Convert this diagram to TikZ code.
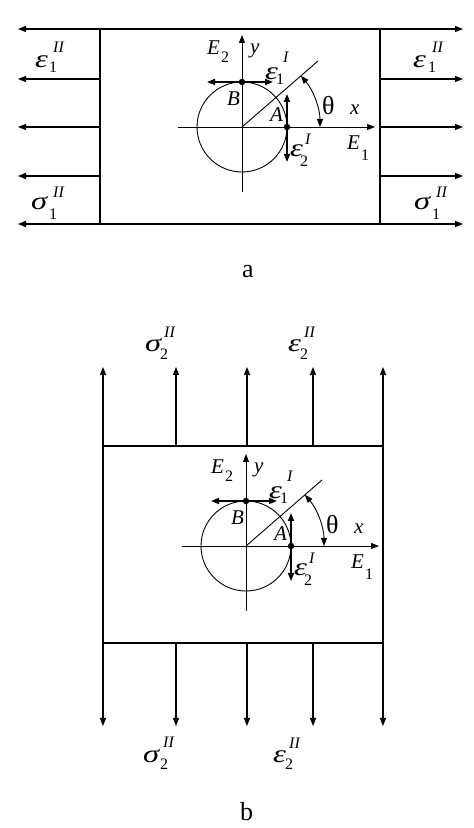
\documentclass[tikz,border=0pt]{standalone}
\usepackage{graphicx}
\usepackage{fontspec}
\setmainfont{Liberation Serif}
\usetikzlibrary{arrows.meta}
\tikzset{
  ftip/.tip={Triangle[length=8pt,width=6pt]},
  boxline/.style={line width=2.6pt},
  load/.style={line width=1.2pt,-ftip},
  thinline/.style={line width=0.9pt},
  dbl/.style={line width=1.6pt,ftip-ftip},
  lab/.style={inner sep=0pt,anchor=base west,font=\fontsize{21}{23}\selectfont},
  grk/.style={inner sep=0pt,anchor=base west,font=\fontsize{25}{27}\selectfont\itshape},
  sml/.style={inner sep=0pt,anchor=base west,font=\fontsize{16}{18}\selectfont},
  smlit/.style={inner sep=0pt,anchor=base west,font=\fontsize{16}{18}\selectfont\itshape},
  captext/.style={inner sep=0pt,anchor=base west,font=\fontsize{26}{28}\selectfont},
  dot/.style={circle,fill=black,inner sep=0pt,minimum size=6.5pt}
}
% name, letter position, letter, subscript position, subscript, superscript position, superscript
\newcommand{\glab}[7]{%
  \node[grk] (#1) at #2 {\scalebox{1.3}[1]{#3}};
  \node[sml] (#1sub) at #4 {#5};
  \node[smlit] (#1sup) at #6 {#7};
}
\newcommand{\drawinner}{%
  \coordinate (C) at (0,0);
  \coordinate (hs) at (-64,0); \coordinate (he) at (133,0);
  \coordinate (vs) at (0,-65); \coordinate (ve) at (0,92);
  \draw[thinline,-ftip] (hs) -- (he);
  \draw[thinline,-ftip] (vs) -- (ve);
  \draw[thinline] (C) circle[radius=45pt];
  \coordinate (D) at (76,66);
  \draw[thinline] (C) -- (D);
  \draw[thinline,ftip-ftip] (78,0) arc[start angle=0,end angle=41,radius=78pt];
  \node[dot] (B) at (0,45) {};
  \node[dot] (A) at (45,0) {};
  \coordinate (bl) at (-35,45); \coordinate (br) at (31,45);
  \draw[dbl] (bl) -- (br);
  \coordinate (at) at (45,33); \coordinate (ab) at (45,-35);
  \draw[dbl] (at) -- (ab);
  \node[lab] (E2) at (-35,72) {\itshape E};
  \node[sml] (E2sub) at (-21,64) {2};
  \node[lab] (ylab) at (8,73) {\itshape y};
  \glab{e1I}{(23,47)}{ε}{(34,42)}{1}{(41,64)}{I}
  \node[lab] (Blab) at (-15,21) {\itshape B};
  \node[lab] (Alab) at (28,5) {\itshape A};
  \node[lab,font=\fontsize{26}{28}\selectfont] (th) at (80,12) {θ};
  \node[lab] (xlab) at (108,12) {\itshape x};
  \node[lab] (E1) at (105,-23) {\itshape E};
  \node[sml] (E1sub) at (119,-34) {1};
  \glab{e2I}{(48,-30)}{ε}{(58,-40)}{2}{(63,-18)}{I}
}
\begin{document}
\begin{tikzpicture}[x=1pt,y=1pt]
\useasboundingbox (0,0) rectangle (474,828);
% ---------- panel a ----------
\node[draw,boxline,minimum width=280pt,minimum height=195pt,inner sep=0pt] (boxa) at (240,701.5) {};
\foreach \yy [count=\i] in {799,749,701,652,604}{
  \coordinate (la\i) at (100,\yy); \coordinate (lt\i) at (18,\yy);
  \coordinate (ra\i) at (380,\yy); \coordinate (rt\i) at (463,\yy);
  \draw[load] (la\i) -- (lt\i);
  \draw[load] (ra\i) -- (rt\i);
}
\glab{e1l}{(35,760)}{ε}{(49,755)}{1}{(53,775)}{II}
\glab{e1r}{(413,760)}{ε}{(428,755)}{1}{(432,775)}{II}
\glab{s1l}{(31,618)}{σ}{(49,608)}{1}{(53,630)}{II}
\glab{s1r}{(414,618)}{σ}{(432,608)}{1}{(436,630)}{II}
\begin{scope}[shift={(242,701)}]
\drawinner
\end{scope}
\node[captext] (capa) at (242,550) {a};
% ---------- panel b ----------
\node[draw,boxline,minimum width=280pt,minimum height=197pt,inner sep=0pt] (boxb) at (243,283.5) {};
\foreach \xx [count=\i] in {103,176,247,313,383}{
  \coordinate (ta\i) at (\xx,382); \coordinate (tt\i) at (\xx,461);
  \coordinate (ba\i) at (\xx,185); \coordinate (bt\i) at (\xx,102);
  \draw[load] (ta\i) -- (tt\i);
  \draw[load] (ba\i) -- (bt\i);
}
\glab{s2t}{(145,476)}{σ}{(160,468)}{2}{(164,490)}{II}
\glab{e2t}{(288,476)}{ε}{(300,468)}{2}{(304,490)}{II}
\glab{s2b}{(143,65)}{σ}{(160,58)}{2}{(163,80)}{II}
\glab{e2b}{(273,65)}{ε}{(285,58)}{2}{(289,79)}{II}
\begin{scope}[shift={(246,282)}]
\drawinner
\end{scope}
\node[captext] (capb) at (240,7) {b};
\end{tikzpicture}
\end{document}
